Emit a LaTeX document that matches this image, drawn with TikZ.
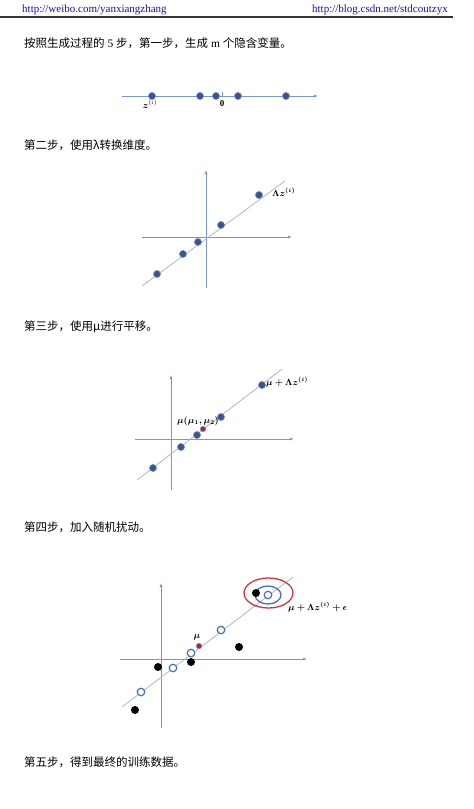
\documentclass[tikz,border=0pt]{standalone}
\usepackage{fontspec}
\usepackage{bm}
\setmainfont{Liberation Serif}
\newfontfamily\cjk{Noto Sans CJK SC}
\usetikzlibrary{arrows.meta}
\usetikzlibrary{shapes}

\definecolor{axisblue}{RGB}{120,150,205}
\definecolor{diaggray}{RGB}{170,185,205}
\definecolor{dotfill}{RGB}{55,85,135}
\definecolor{dotdraw}{RGB}{110,140,195}
\definecolor{ringblue}{RGB}{75,110,175}
\definecolor{ellred}{RGB}{200,55,65}
\definecolor{mured}{RGB}{175,40,45}
\definecolor{linkblue}{RGB}{20,20,170}

\tikzset{
  hdr/.style={font=\fontsize{11}{13}\selectfont,text=linkblue,inner sep=0pt},
  txt/.style={font=\fontsize{11.5}{14}\selectfont,anchor=west,inner sep=0pt},
  lbl/.style={font=\fontsize{9}{10}\selectfont,inner sep=0pt},
  axis/.style={axisblue,line width=0.8pt,-{Latex[length=4pt,width=3pt]}},
  diag/.style={diaggray,line width=0.8pt},
  bdot/.style={circle,fill=dotfill,draw=dotdraw,line width=0.7pt,minimum size=7pt,inner sep=0pt},
  ring/.style={circle,fill=white,draw=ringblue,line width=1.2pt,minimum size=7.5pt,inner sep=0pt},
  kdot/.style={circle,fill=black,minimum size=8pt,inner sep=0pt},
  mdot/.style={circle,fill=mured,draw=dotdraw,line width=0.5pt,minimum size=5.5pt,inner sep=0pt},
}

\begin{document}
\begin{tikzpicture}[x=1pt,y=-1pt]
\useasboundingbox (0,0) rectangle (474,809);

% header
\node (weibo)	at (22,11)	[hdr,anchor=west] {\underline{http://weibo.com/yanxiangzhang}};
\node (csdn)	at (448,11)	[hdr,anchor=east] {\underline{http://blog.csdn.net/stdcoutzyx}};
\coordinate (rule_l) at (0,17);
\coordinate (rule_r) at (453,17);
\draw [line width=1.1pt,black!80] (rule_l) -- (rule_r);

% step texts
\node (step1)	at (24,43)	[txt] {{\cjk 按照生成过程的} 5 {\cjk 步，第一步，生成} m {\cjk 个隐含变量。}};
\node (step2)	at (24,145)	[txt] {\cjk 第二步，使用λ转换维度。};
\node (step3)	at (24,327)	[txt] {\cjk 第三步，使用μ进行平移。};
\node (step4)	at (24,527)	[txt] {\cjk 第四步，加入随机扰动。};
\node (step5)	at (24,762)	[txt] {\cjk 第五步，得到最终的训练数据。};

% step 1: latent variables on a line
\coordinate (x1_l) at (122,96);
\coordinate (x1_r) at (318,96);
\coordinate (tick1) at (222,96);
\draw [axis] (x1_l) -- (x1_r);
\draw [axisblue,line width=0.6pt] (tick1) -- ++(0,-4);
\node (z1)	at (152,96)	[bdot] {};
\node (z2)	at (200,96)	[bdot] {};
\node (z3)	at (216,96)	[bdot] {};
\node (z4)	at (238,96)	[bdot] {};
\node (z5)	at (286,96)	[bdot] {};
\node (z_label)	at (150,104)	[lbl] {$\bm{z}^{(i)}$};
\node (zero1)	at (222,104)	[lbl] {\bfseries 0};

% step 2: Lambda z
\coordinate (x2_l) at (142,237);
\coordinate (x2_r) at (292,237);
\coordinate (y2_b) at (206,288);
\coordinate (y2_t) at (206,170);
\coordinate (d2_a) at (142,286);
\coordinate (d2_b) at (285,181);
\draw [axis] (x2_l) -- (x2_r);
\draw [axis] (y2_b) -- (y2_t);
\draw [diag] (d2_a) -- (d2_b);
\node (lz1)	at (157,274)	[bdot] {};
\node (lz2)	at (183,254)	[bdot] {};
\node (lz3)	at (198,242)	[bdot] {};
\node (lz4)	at (221,225)	[bdot] {};
\node (lz5)	at (259,195)	[bdot] {};
\node (lz_label)	at (272,192)	[lbl,anchor=west] {$\bm{\Lambda z^{(i)}}$};

% step 3: shift by mu
\coordinate (x3_l) at (135,439);
\coordinate (x3_r) at (294,439);
\coordinate (y3_b) at (171,490);
\coordinate (y3_t) at (171,375);
\coordinate (d3_a) at (137,480);
\coordinate (d3_b) at (282,369);
\draw [axis] (x3_l) -- (x3_r);
\draw [axis] (y3_b) -- (y3_t);
\draw [diag] (d3_a) -- (d3_b);
\node (mz1)	at (153,468)	[bdot] {};
\node (mz2)	at (181,447)	[bdot] {};
\node (mz3)	at (197,435)	[bdot] {};
\node (mz4)	at (221,417)	[bdot] {};
\node (mz5)	at (262,385)	[bdot] {};
\node (mu3)	at (203,429)	[mdot] {};
\node (mu3_label)	at (198,421)	[lbl] {$\bm{\mu(\mu_1,\mu_2)}$};
\node (mz_label)	at (266,382)	[lbl,anchor=west] {$\bm{\mu+\Lambda z^{(i)}}$};

% step 4: add noise
\coordinate (x4_l) at (120,659);
\coordinate (x4_r) at (307,659);
\coordinate (y4_b) at (161,728);
\coordinate (y4_t) at (161,583);
\coordinate (d4_a) at (122,707);
\coordinate (d4_b) at (293,577);
\draw [axis] (x4_l) -- (x4_r);
\draw [axis] (y4_b) -- (y4_t);
\draw [diag] (d4_a) -- (d4_b);
\node (noise_outer)	at (268.5,593)	[ellipse,draw=ellred,line width=1.3pt,minimum width=49pt,minimum height=30pt,inner sep=0pt] {};
\node (noise_inner)	at (268,595)	[ellipse,draw=ringblue,line width=1.3pt,minimum width=26pt,minimum height=18pt,inner sep=0pt] {};
\node (r1)	at (141,692)	[ring] {};
\node (r2)	at (173,668)	[ring] {};
\node (r3)	at (191,653)	[ring] {};
\node (r4)	at (221,630)	[ring] {};
\node (r5)	at (268,595)	[ring] {};
\node (x1)	at (135,710)	[kdot] {};
\node (x2)	at (158,667)	[kdot] {};
\node (x3)	at (191,662)	[kdot] {};
\node (x4)	at (239,647)	[kdot] {};
\node (x5)	at (256,593)	[kdot] {};
\node (mu4)	at (199,646)	[mdot] {};
\node (mu4_label)	at (197,637)	[lbl] {$\bm{\mu}$};
\node (x_label)	at (288,607)	[lbl,anchor=west] {$\bm{\mu+\Lambda z^{(i)}+\epsilon}$};

\end{tikzpicture}
\end{document}
